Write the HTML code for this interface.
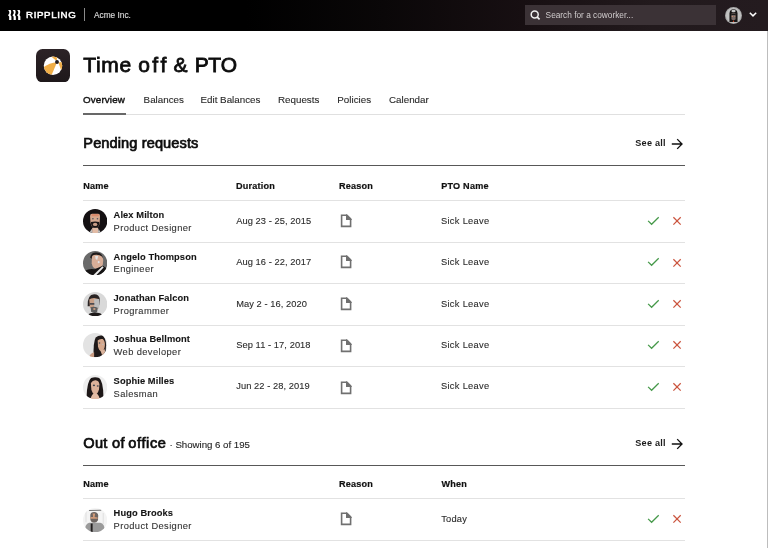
<!DOCTYPE html>
<html><head><meta charset="utf-8">
<style>
*{box-sizing:border-box;margin:0;padding:0}
html,body{width:768px;height:548px;overflow:hidden;background:#fff;font-family:"Liberation Sans",sans-serif;color:#161616}
#root{position:relative;width:768px;height:548px;will-change:transform;background:#fff}
.t{position:absolute;white-space:nowrap;line-height:1}
.a,.b{position:absolute;display:block}
#hdr{position:absolute;left:0;top:0;width:768px;height:30.5px;background:linear-gradient(90deg,#000 0%,#000 32%,#0a0708 50%,#170f12 68%,#221a1d 85%,#241b1f 100%)}
#vbar{position:absolute;left:766.5px;top:30.5px;width:1.5px;height:518px;background:#bdbdbd}
</style></head><body><div id="root">
<div id="hdr"></div><div id="vbar"></div>
<svg class="a" style="left:8.1px;top:10.1px" width="13" height="10" viewBox="0 0 13 10"><g fill="#fff"><path d="M0.1,0 L2.7,0 Q3.5,1.6 3.1,3.0 Q2.8,4.2 2.5,5.1 L3.4,6.4 L3.4,9.9 L1.15,9.9 L1.15,6.4 L0,5.2 Q1.1,4.0 1.4,3.0 Q1.4,1.2 0.1,0 Z"/><path transform="translate(4.45,0)" d="M0.1,0 L2.7,0 Q3.5,1.6 3.1,3.0 Q2.8,4.2 2.5,5.1 L3.4,6.4 L3.4,9.9 L1.15,9.9 L1.15,6.4 L0,5.2 Q1.1,4.0 1.4,3.0 Q1.4,1.2 0.1,0 Z"/><path transform="translate(9.0,0)" d="M0.1,0 L2.7,0 Q3.5,1.6 3.1,3.0 Q2.8,4.2 2.5,5.1 L3.4,6.4 L3.4,9.9 L1.15,9.9 L1.15,6.4 L0,5.2 Q1.1,4.0 1.4,3.0 Q1.4,1.2 0.1,0 Z"/></g></svg>
<div class="t" style="left:25.5px;top:10.79px;font-size:8.4px;font-weight:normal;color:#fff;letter-spacing:0.55px;-webkit-text-stroke:0.45px #fff;transform:scaleX(1.16);transform-origin:0 0">RIPPLING</div>
<div class="b" style="left:84px;top:8px;width:1px;height:13.3px;background:#8a8a8a"></div>
<div class="t" style="left:94px;top:10.87px;font-size:8.3px;font-weight:normal;color:#d8d8d8;letter-spacing:0px;-webkit-text-stroke:0.15px #d8d8d8">Acme Inc.</div>
<div class="b" style="left:525px;top:5px;width:191px;height:20px;background:#3b3236"></div>
<svg class="a" style="left:529.7px;top:10px" width="11" height="11" viewBox="0 0 11 11"><circle cx="4.7" cy="4.6" r="3.5" fill="none" stroke="#f0f0f0" stroke-width="1.5"/><path d="M7 6.9 L9.6 9.4" stroke="#f0f0f0" stroke-width="1.7"/></svg>
<div class="t" style="left:545.6px;top:11.17px;font-size:8.3px;font-weight:normal;color:#d0cccd;letter-spacing:0px;">Search for a coworker...</div>
<svg class="a" style="left:724.8px;top:6.6px" width="17" height="17" viewBox="0 0 24 24"><defs><clipPath id="hc"><circle cx="12" cy="12" r="12"/></clipPath></defs><g clip-path="url(#hc)"><rect width="24" height="24" fill="#a8a8a8"/><circle cx="12" cy="12" r="10.5" fill="#c2c2c2"/><path d="M6.3 21 L6.3 9 Q6.8 3.2 12 3.2 Q17.2 3.2 17.7 9 L17.7 21 Z" fill="#171515"/><ellipse cx="12" cy="5.6" rx="3" ry="1.7" fill="#c8c8c8"/><rect x="9" y="8" width="6" height="10.5" rx="2" fill="#7a6d69"/><rect x="8.8" y="9.3" width="6.4" height="2.1" fill="#1c1a1a"/><circle cx="10.3" cy="13.3" r="0.9" fill="#d3916f"/><circle cx="13.8" cy="13" r="0.8" fill="#c98a6c"/><circle cx="12" cy="20.2" r="1" fill="#e34a2a"/></g></svg>
<svg class="a" style="left:748.8px;top:12.4px" width="8" height="5" viewBox="0 0 8 5"><path d="M0.8 0.8 L4 3.9 L7.2 0.8" fill="none" stroke="#fff" stroke-width="1.5"/></svg>
<svg class="a" style="left:36px;top:48.6px" width="34" height="33.3" viewBox="0 0 34 33.3"><defs><linearGradient id="ig" x1="0" y1="0" x2="0" y2="1"><stop offset="0" stop-color="#2c2327"/><stop offset="1" stop-color="#1e181a"/></linearGradient><clipPath id="ball"><circle cx="17" cy="16.75" r="9.25"/></clipPath></defs><rect width="34" height="33.3" rx="6.5" fill="url(#ig)"/><circle cx="17" cy="16.75" r="9.25" fill="#fff"/><g clip-path="url(#ball)" fill="#f0ae47"><path d="M21 13.2 Q13.5 13.6 7 18.5 L4 30 L15.2 27 Z"/><path d="M20.8 12.3 L15.2 7.6 L15 4 L21.2 4 Z"/><path d="M22.4 13.4 L30 12.5 L30 24 L25.2 21.5 Z"/></g><circle cx="21" cy="13" r="1.95" fill="#231c1f"/></svg>
<div class="t" style="left:83.3px;top:54.32px;font-size:21px;font-weight:normal;color:#0d0d0d;letter-spacing:0.65px;-webkit-text-stroke:0.8px #0d0d0d">Time <span style="letter-spacing:2.4px">of</span>f &amp; <span style="letter-spacing:-0.4px">PT</span>O</div>
<div class="t" style="left:83px;top:95.00px;font-size:9.8px;font-weight:normal;color:#111;letter-spacing:0.14px;-webkit-text-stroke:0.4px #111">Overview</div>
<div class="t" style="left:143.6px;top:95.00px;font-size:9.8px;font-weight:normal;color:#282828;letter-spacing:0.0px;-webkit-text-stroke:0.1px #282828">Balances</div>
<div class="t" style="left:200.5px;top:95.00px;font-size:9.8px;font-weight:normal;color:#282828;letter-spacing:0.0px;-webkit-text-stroke:0.1px #282828">Edit Balances</div>
<div class="t" style="left:278px;top:95.00px;font-size:9.8px;font-weight:normal;color:#282828;letter-spacing:0.0px;-webkit-text-stroke:0.1px #282828">Requests</div>
<div class="t" style="left:337.3px;top:95.00px;font-size:9.8px;font-weight:normal;color:#282828;letter-spacing:0.0px;-webkit-text-stroke:0.1px #282828">Policies</div>
<div class="t" style="left:389px;top:95.00px;font-size:9.8px;font-weight:normal;color:#282828;letter-spacing:0.0px;-webkit-text-stroke:0.1px #282828">Calendar</div>
<div class="b" style="left:83px;top:113.8px;width:602px;height:1px;background:#e0e0e0"></div>
<div class="b" style="left:83px;top:113px;width:43px;height:2px;background:#686868"></div>
<div class="t" style="left:83.3px;top:135.94px;font-size:14.6px;font-weight:normal;color:#0d0d0d;letter-spacing:0.1px;-webkit-text-stroke:0.7px #0d0d0d">Pending requests</div>
<div class="t" style="left:635.3px;top:138.70px;font-size:9.1px;font-weight:bold;color:#1a1a1a;letter-spacing:0.25px;">See all</div>
<svg class="a" style="left:671.4px;top:137.5px" width="12" height="12" viewBox="0 0 12 12"><path d="M0.8 6 H11 M6.2 1.1 L11 6 L6.2 10.9" fill="none" stroke="#111" stroke-width="1.35"/></svg>
<div class="b" style="left:83px;top:165px;width:602px;height:1px;background:#585858"></div>
<div class="t" style="left:83.2px;top:181.90px;font-size:9.1px;font-weight:bold;color:#111;letter-spacing:0.22px;-webkit-text-stroke:0.2px #111">Name</div>
<div class="t" style="left:236.0px;top:181.90px;font-size:9.1px;font-weight:bold;color:#111;letter-spacing:0.22px;-webkit-text-stroke:0.2px #111">Duration</div>
<div class="t" style="left:338.9px;top:181.90px;font-size:9.1px;font-weight:bold;color:#111;letter-spacing:0.22px;-webkit-text-stroke:0.2px #111">Reason</div>
<div class="t" style="left:441.2px;top:181.90px;font-size:9.1px;font-weight:bold;color:#111;letter-spacing:0.22px;-webkit-text-stroke:0.2px #111">PTO Name</div>
<div class="b" style="left:83px;top:200px;width:602px;height:1px;background:#e2e2e2"></div>
<svg class="a" style="left:83px;top:209.1px" width="24.3" height="24.3" viewBox="0 0 24 24"><defs><clipPath id="c209"><circle cx="12" cy="12" r="12"/></clipPath></defs><g clip-path="url(#c209)"><rect width="24" height="24" fill="#141012"/><path d="M7 7 Q7 4.6 9 4.6 L15 4.6 Q16.8 4.6 16.8 7 L16.5 13 Q16 18.5 12 18.6 Q8 18.5 7.4 13 Z" fill="#d6a990"/><rect x="8.5" y="5" width="7" height="2.2" fill="#d98a6c"/><circle cx="9.8" cy="9.6" r="0.8" fill="#4b525c"/><circle cx="14.3" cy="9.6" r="0.8" fill="#4b525c"/><path d="M7.8 12.8 Q12 11.8 16.2 12.8 Q16 18.6 12 18.9 Q8 18.6 7.8 12.8 Z" fill="#1b1515"/><ellipse cx="12" cy="15.2" rx="2.2" ry="1.6" fill="#c99d86"/><rect x="9" y="18.6" width="6" height="6" fill="#e2bba5"/><path d="M6 24 L8.6 19.5 L9.6 24 Z M18 24 L15.4 19.5 L14.4 24 Z" fill="#bdbdbd"/></g></svg>
<div class="t" style="left:113.6px;top:211.23px;font-size:9.3px;font-weight:bold;color:#141414;letter-spacing:0.1px;-webkit-text-stroke:0.1px #141414">Alex Milton</div>
<div class="t" style="left:113.6px;top:223.63px;font-size:9.3px;font-weight:normal;color:#333;letter-spacing:0.4px;-webkit-text-stroke:0.1px #333">Product Designer</div>
<div class="t" style="left:236.2px;top:216.73px;font-size:9.3px;font-weight:normal;color:#2a2a2a;letter-spacing:0.07px;-webkit-text-stroke:0.1px #2a2a2a">Aug 23 - 25, 2015</div>
<svg class="a" style="left:340.1px;top:213.7px" width="12" height="14" viewBox="0 0 12 14"><path d="M1.6 1.3 H7 L10.6 4.9 V12.4 H1.6Z" fill="none" stroke="#707070" stroke-width="1.6" stroke-linejoin="miter"/><path d="M6.6 1.3 V5.3 H10.6 Z" fill="#707070" stroke="#707070" stroke-width="1.2"/></svg>
<div class="t" style="left:441px;top:216.73px;font-size:9.3px;font-weight:normal;color:#2a2a2a;letter-spacing:0.3px;-webkit-text-stroke:0.1px #2a2a2a">Sick Leave</div>
<svg class="a" style="left:647px;top:216.0px" width="13" height="10" viewBox="0 0 13 10"><path d="M1.1 4.9 L4.6 8.3 L11.7 1.2" fill="none" stroke="#46994a" stroke-width="1.22"/></svg>
<svg class="a" style="left:672px;top:216.2px" width="10" height="10" viewBox="0 0 10 10"><path d="M1.4 1.3 L8.7 8.6 M8.7 1.3 L1.4 8.6" fill="none" stroke="#cb553f" stroke-width="1.25"/></svg>
<div class="b" style="left:83px;top:242px;width:602px;height:1px;background:#e2e2e2"></div>
<svg class="a" style="left:83px;top:250.5px" width="24.3" height="24.3" viewBox="0 0 24 24"><defs><clipPath id="c250"><circle cx="12" cy="12" r="12"/></clipPath></defs><g clip-path="url(#c250)"><rect width="24" height="24" fill="#6a6a6a"/><path d="M7 6.5 Q8 1.5 13 1.6 Q18.5 1.5 19.5 6.5 L18 8 L9 8Z" fill="#1e1a1a"/><path d="M8.8 6 Q9 3.5 13.5 3.6 Q19.8 4 20 9 L19.6 13 Q18.5 17.3 14 17.5 Q9.5 17.5 8.6 12 Z" fill="#d8ae98"/><path d="M12 5 L15 5 L14 9 L12.5 8Z" fill="#e4e4e6"/><circle cx="15.5" cy="11" r="1" fill="#dfe2e6"/><path d="M0 24 L2 19.5 Q6 17 11.5 18 L19.5 14.5 L23.5 17 L24 24Z" fill="#161414"/><path d="M10 24 L19.2 15 L20.4 16.3 L13 24Z" fill="#ececec"/></g></svg>
<div class="t" style="left:113.6px;top:252.63px;font-size:9.3px;font-weight:bold;color:#141414;letter-spacing:0.1px;-webkit-text-stroke:0.1px #141414">Angelo Thompson</div>
<div class="t" style="left:113.6px;top:265.18px;font-size:9.3px;font-weight:normal;color:#333;letter-spacing:0.4px;-webkit-text-stroke:0.1px #333">Engineer</div>
<div class="t" style="left:236.2px;top:258.13px;font-size:9.3px;font-weight:normal;color:#2a2a2a;letter-spacing:0.07px;-webkit-text-stroke:0.1px #2a2a2a">Aug 16 - 22, 2017</div>
<svg class="a" style="left:340.1px;top:255.4px" width="12" height="14" viewBox="0 0 12 14"><path d="M1.6 1.3 H7 L10.6 4.9 V12.4 H1.6Z" fill="none" stroke="#707070" stroke-width="1.6" stroke-linejoin="miter"/><path d="M6.6 1.3 V5.3 H10.6 Z" fill="#707070" stroke="#707070" stroke-width="1.2"/></svg>
<div class="t" style="left:441px;top:258.13px;font-size:9.3px;font-weight:normal;color:#2a2a2a;letter-spacing:0.3px;-webkit-text-stroke:0.1px #2a2a2a">Sick Leave</div>
<svg class="a" style="left:647px;top:257.4px" width="13" height="10" viewBox="0 0 13 10"><path d="M1.1 4.9 L4.6 8.3 L11.7 1.2" fill="none" stroke="#46994a" stroke-width="1.22"/></svg>
<svg class="a" style="left:672px;top:257.6px" width="10" height="10" viewBox="0 0 10 10"><path d="M1.4 1.3 L8.7 8.6 M8.7 1.3 L1.4 8.6" fill="none" stroke="#cb553f" stroke-width="1.25"/></svg>
<div class="b" style="left:83px;top:283px;width:602px;height:1px;background:#e2e2e2"></div>
<svg class="a" style="left:83px;top:291.90000000000003px" width="24.3" height="24.3" viewBox="0 0 24 24"><defs><clipPath id="c291"><circle cx="12" cy="12" r="12"/></clipPath></defs><g clip-path="url(#c291)"><rect width="24" height="24" fill="#d9d9d9"/><path d="M4.6 14 Q4 2.5 11 2.2 Q16 2.3 16.6 7 L16 13 L6 14Z" fill="#2a2424"/><path d="M6.2 7.5 Q7.5 6 11 6 L15.5 7 L15.5 16 Q12 19 6.8 15.5 Z" fill="#c9a087"/><rect x="11" y="7" width="5" height="9" fill="#bcbcbc"/><rect x="6.8" y="11" width="4.4" height="1.5" fill="#3a3f48"/><path d="M7.5 15 Q11 14 14.5 15.5 L14 20 Q11 21.5 8 19.5Z" fill="#5e5e5e"/><ellipse cx="11.2" cy="16.8" rx="1.2" ry="0.9" fill="#c79a80"/><path d="M4 24 Q6 20.5 10 20.5 L14 20.5 Q18 20.5 20 24Z" fill="#1e1a1a"/></g></svg>
<div class="t" style="left:113.6px;top:294.03px;font-size:9.3px;font-weight:bold;color:#141414;letter-spacing:0.1px;-webkit-text-stroke:0.1px #141414">Jonathan Falcon</div>
<div class="t" style="left:113.6px;top:306.73px;font-size:9.3px;font-weight:normal;color:#333;letter-spacing:0.4px;-webkit-text-stroke:0.1px #333">Programmer</div>
<div class="t" style="left:236.2px;top:299.53px;font-size:9.3px;font-weight:normal;color:#2a2a2a;letter-spacing:0.07px;-webkit-text-stroke:0.1px #2a2a2a">May 2 - 16, 2020</div>
<svg class="a" style="left:340.1px;top:297.1px" width="12" height="14" viewBox="0 0 12 14"><path d="M1.6 1.3 H7 L10.6 4.9 V12.4 H1.6Z" fill="none" stroke="#707070" stroke-width="1.6" stroke-linejoin="miter"/><path d="M6.6 1.3 V5.3 H10.6 Z" fill="#707070" stroke="#707070" stroke-width="1.2"/></svg>
<div class="t" style="left:441px;top:299.53px;font-size:9.3px;font-weight:normal;color:#2a2a2a;letter-spacing:0.3px;-webkit-text-stroke:0.1px #2a2a2a">Sick Leave</div>
<svg class="a" style="left:647px;top:298.8px" width="13" height="10" viewBox="0 0 13 10"><path d="M1.1 4.9 L4.6 8.3 L11.7 1.2" fill="none" stroke="#46994a" stroke-width="1.22"/></svg>
<svg class="a" style="left:672px;top:299.0px" width="10" height="10" viewBox="0 0 10 10"><path d="M1.4 1.3 L8.7 8.6 M8.7 1.3 L1.4 8.6" fill="none" stroke="#cb553f" stroke-width="1.25"/></svg>
<div class="b" style="left:83px;top:325px;width:602px;height:1px;background:#e2e2e2"></div>
<svg class="a" style="left:83px;top:333.3px" width="24.3" height="24.3" viewBox="0 0 24 24"><defs><clipPath id="c333"><circle cx="12" cy="12" r="12"/></clipPath></defs><g clip-path="url(#c333)"><rect width="24" height="24" fill="#e3e3e3"/><path d="M10.5 24 Q10 9 12.5 4.5 Q15.5 1.8 19 2.5 Q22.5 4.5 22.8 12 L22 24Z" fill="#1f1919"/><path d="M14.5 7.5 Q16 5.5 19.5 6 Q22 8 21.6 12.5 Q21 17.5 18.2 17.8 Q15.5 17.5 14.8 13 Z" fill="#d6a98e"/><circle cx="16.3" cy="9.9" r="0.8" fill="#48505a"/><circle cx="19.7" cy="11.2" r="0.7" fill="#b8c4cc"/><path d="M17 17 L21.5 16 L22 22 L19 22Z" fill="#dab39c"/><path d="M6 24 Q7 20 11 19 L11 24Z" fill="#c99b82"/></g></svg>
<div class="t" style="left:113.6px;top:335.43px;font-size:9.3px;font-weight:bold;color:#141414;letter-spacing:0.1px;-webkit-text-stroke:0.1px #141414">Joshua Bellmont</div>
<div class="t" style="left:113.6px;top:348.28px;font-size:9.3px;font-weight:normal;color:#333;letter-spacing:0.4px;-webkit-text-stroke:0.1px #333">Web developer</div>
<div class="t" style="left:236.2px;top:340.93px;font-size:9.3px;font-weight:normal;color:#2a2a2a;letter-spacing:0.07px;-webkit-text-stroke:0.1px #2a2a2a">Sep 11 - 17, 2018</div>
<svg class="a" style="left:340.1px;top:338.79999999999995px" width="12" height="14" viewBox="0 0 12 14"><path d="M1.6 1.3 H7 L10.6 4.9 V12.4 H1.6Z" fill="none" stroke="#707070" stroke-width="1.6" stroke-linejoin="miter"/><path d="M6.6 1.3 V5.3 H10.6 Z" fill="#707070" stroke="#707070" stroke-width="1.2"/></svg>
<div class="t" style="left:441px;top:340.93px;font-size:9.3px;font-weight:normal;color:#2a2a2a;letter-spacing:0.3px;-webkit-text-stroke:0.1px #2a2a2a">Sick Leave</div>
<svg class="a" style="left:647px;top:340.2px" width="13" height="10" viewBox="0 0 13 10"><path d="M1.1 4.9 L4.6 8.3 L11.7 1.2" fill="none" stroke="#46994a" stroke-width="1.22"/></svg>
<svg class="a" style="left:672px;top:340.4px" width="10" height="10" viewBox="0 0 10 10"><path d="M1.4 1.3 L8.7 8.6 M8.7 1.3 L1.4 8.6" fill="none" stroke="#cb553f" stroke-width="1.25"/></svg>
<div class="b" style="left:83px;top:366px;width:602px;height:1px;background:#e2e2e2"></div>
<svg class="a" style="left:83px;top:374.70000000000005px" width="24.3" height="24.3" viewBox="0 0 24 24"><defs><clipPath id="c374"><circle cx="12" cy="12" r="12"/></clipPath></defs><g clip-path="url(#c374)"><rect width="24" height="24" fill="#eeeeee"/><path d="M3.5 22 Q4 6 8 3 Q12 1.2 16 3 Q20 6 20.2 22 Q12 24 3.5 22Z" fill="#1d1717"/><path d="M7.8 8 Q9.5 5 12.5 5.2 Q16 5.5 16.2 9.5 L15.8 14 Q14.8 18.8 12 19 Q9.2 18.8 8.2 14 Z" fill="#dcb29a"/><ellipse cx="10.8" cy="10.3" rx="1.1" ry="0.8" fill="#3f4650"/><ellipse cx="14.6" cy="10.8" rx="1" ry="0.7" fill="#3f4650"/><path d="M7.5 24 Q8.5 18 12 18 Q15.5 18 16.5 24Z" fill="#e2bba4"/></g></svg>
<div class="t" style="left:113.6px;top:376.83px;font-size:9.3px;font-weight:bold;color:#141414;letter-spacing:0.1px;-webkit-text-stroke:0.1px #141414">Sophie Milles</div>
<div class="t" style="left:113.6px;top:389.83px;font-size:9.3px;font-weight:normal;color:#333;letter-spacing:0.4px;-webkit-text-stroke:0.1px #333">Salesman</div>
<div class="t" style="left:236.2px;top:382.33px;font-size:9.3px;font-weight:normal;color:#2a2a2a;letter-spacing:0.07px;-webkit-text-stroke:0.1px #2a2a2a">Jun 22 - 28, 2019</div>
<svg class="a" style="left:340.1px;top:380.5px" width="12" height="14" viewBox="0 0 12 14"><path d="M1.6 1.3 H7 L10.6 4.9 V12.4 H1.6Z" fill="none" stroke="#707070" stroke-width="1.6" stroke-linejoin="miter"/><path d="M6.6 1.3 V5.3 H10.6 Z" fill="#707070" stroke="#707070" stroke-width="1.2"/></svg>
<div class="t" style="left:441px;top:382.33px;font-size:9.3px;font-weight:normal;color:#2a2a2a;letter-spacing:0.3px;-webkit-text-stroke:0.1px #2a2a2a">Sick Leave</div>
<svg class="a" style="left:647px;top:381.6px" width="13" height="10" viewBox="0 0 13 10"><path d="M1.1 4.9 L4.6 8.3 L11.7 1.2" fill="none" stroke="#46994a" stroke-width="1.22"/></svg>
<svg class="a" style="left:672px;top:381.8px" width="10" height="10" viewBox="0 0 10 10"><path d="M1.4 1.3 L8.7 8.6 M8.7 1.3 L1.4 8.6" fill="none" stroke="#cb553f" stroke-width="1.25"/></svg>
<div class="b" style="left:83px;top:408px;width:602px;height:1px;background:#e2e2e2"></div>
<div class="t" style="left:83.3px;top:435.94px;font-size:14.6px;font-weight:normal;color:#0d0d0d;letter-spacing:0.3px;-webkit-text-stroke:0.7px #0d0d0d">Out of <span style="letter-spacing:0.6px;margin-left:-0.9px">office</span></div>
<div class="t" style="left:169.5px;top:440.19px;font-size:9.7px;font-weight:normal;color:#222;letter-spacing:-0.02px;-webkit-text-stroke:0.1px #222">· Showing 6 of 195</div>
<div class="t" style="left:635.3px;top:438.70px;font-size:9.1px;font-weight:bold;color:#1a1a1a;letter-spacing:0.25px;">See all</div>
<svg class="a" style="left:671.4px;top:437.5px" width="12" height="12" viewBox="0 0 12 12"><path d="M0.8 6 H11 M6.2 1.1 L11 6 L6.2 10.9" fill="none" stroke="#111" stroke-width="1.35"/></svg>
<div class="b" style="left:83px;top:465px;width:602px;height:1px;background:#585858"></div>
<div class="t" style="left:83.2px;top:479.90px;font-size:9.1px;font-weight:bold;color:#111;letter-spacing:0.22px;-webkit-text-stroke:0.2px #111">Name</div>
<div class="t" style="left:338.9px;top:479.90px;font-size:9.1px;font-weight:bold;color:#111;letter-spacing:0.22px;-webkit-text-stroke:0.2px #111">Reason</div>
<div class="t" style="left:441.4px;top:479.90px;font-size:9.1px;font-weight:bold;color:#111;letter-spacing:0.22px;-webkit-text-stroke:0.2px #111">When</div>
<div class="b" style="left:83px;top:498px;width:602px;height:1px;background:#e2e2e2"></div>
<svg class="a" style="left:83px;top:507.5px" width="24.3" height="24.3" viewBox="0 0 24 24"><defs><clipPath id="c507"><circle cx="12" cy="12" r="12"/></clipPath></defs><g clip-path="url(#c507)"><rect width="24" height="24" fill="#f4f4f4"/><path d="M6 2.5 L18 2.2" stroke="#555" stroke-width="0.8"/><path d="M7.2 7 Q7.5 4 11 4 Q14.8 4 15 7.5 L14.8 12 Q13.5 14.5 11 14.5 Q8 14.5 7.3 11.5Z" fill="#6d6561"/><path d="M9.5 5.5 L12 5.5 L11.5 9 L14.5 9.5 L14.5 10.5 L7.5 10.5 L7.5 9 L10 9Z" fill="#d19a78"/><path d="M1.5 24 Q1.8 15.5 6 14.5 L17 14.5 Q21.5 15 21.8 24Z" fill="#9a9a9a"/><rect x="7.6" y="15.3" width="1.9" height="9" fill="#221f1f"/><path d="M3 3 V14 M20 5 V16" stroke="#ccc" stroke-width="0.5"/></g></svg>
<div class="t" style="left:113.6px;top:508.63px;font-size:9.3px;font-weight:bold;color:#141414;letter-spacing:0.1px;-webkit-text-stroke:0.1px #141414">Hugo Brooks</div>
<div class="t" style="left:113.6px;top:522.03px;font-size:9.3px;font-weight:normal;color:#333;letter-spacing:0.4px;-webkit-text-stroke:0.1px #333">Product Designer</div>
<svg class="a" style="left:340.2px;top:511.7px" width="12" height="14" viewBox="0 0 12 14"><path d="M1.6 1.3 H7 L10.6 4.9 V12.4 H1.6Z" fill="none" stroke="#707070" stroke-width="1.6" stroke-linejoin="miter"/><path d="M6.6 1.3 V5.3 H10.6 Z" fill="#707070" stroke="#707070" stroke-width="1.2"/></svg>
<div class="t" style="left:441.2px;top:515.33px;font-size:9.3px;font-weight:normal;color:#2a2a2a;letter-spacing:0.2px;-webkit-text-stroke:0.1px #2a2a2a">Today</div>
<svg class="a" style="left:647px;top:514.1999999999999px" width="13" height="10" viewBox="0 0 13 10"><path d="M1.1 4.9 L4.6 8.3 L11.7 1.2" fill="none" stroke="#46994a" stroke-width="1.22"/></svg>
<svg class="a" style="left:672px;top:514.4px" width="10" height="10" viewBox="0 0 10 10"><path d="M1.4 1.3 L8.7 8.6 M8.7 1.3 L1.4 8.6" fill="none" stroke="#cb553f" stroke-width="1.25"/></svg>
<div class="b" style="left:83px;top:540px;width:602px;height:1px;background:#e2e2e2"></div>
</div></body></html>
